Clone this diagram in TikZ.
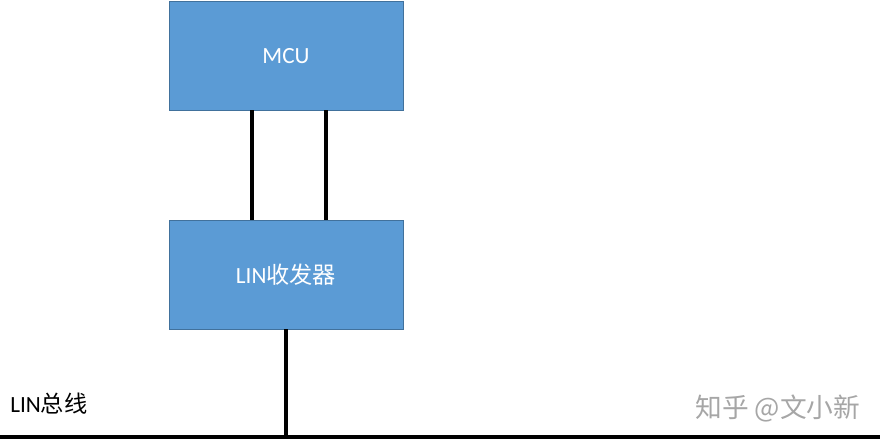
\documentclass[tikz,border=0pt]{standalone}
\usepackage{fontspec}
\setmainfont{Carlito}
\newfontfamily\cjk{Noto Sans CJK SC}
\usetikzlibrary{positioning}

\definecolor{boxfill}{HTML}{5B9BD5}
\definecolor{boxline}{HTML}{41719C}
\definecolor{markgray}{HTML}{A6A6A6}

\begin{document}
\begin{tikzpicture}[
  node distance=2.75cm,
  font=\fontsize{16.5}{19}\selectfont,
  box/.style={draw=boxline, fill=boxfill, line width=0.6pt, text=white,
              minimum width=5.85cm, minimum height=2.725cm, outer sep=0pt},
  wire/.style={line width=2.6pt}]
\useasboundingbox (0,0) rectangle (22,-11.075);
\node[box] (mcu) at (7.15,-1.39) {MCU};
\node[box, below=of mcu] (lin) {LIN{\cjk 收发器}};
% bus line along the bottom
\coordinate (busL) at (0,-10.925);
\coordinate (busR) at (22,-10.925);
\coordinate (tap) at (lin.south |- busL);
\draw[wire] ([xshift=-0.85cm]mcu.south) -- ([xshift=-0.85cm]lin.north);
\draw[wire] ([xshift=1.0cm]mcu.south) -- ([xshift=1.0cm]lin.north);
\draw[wire] (lin.south) -- (tap);
\draw[wire] (busL) -- (busR);
\node[anchor=west, inner sep=0pt] (buslabel) at (0.25,-10.1) {LIN{\cjk 总线}};
\node[text=markgray, inner sep=0pt, font=\fontsize{19}{22}\selectfont]
  (mark) at (19.45,-10.2) {\cjk 知乎 @文小新};
\end{tikzpicture}
\end{document}
